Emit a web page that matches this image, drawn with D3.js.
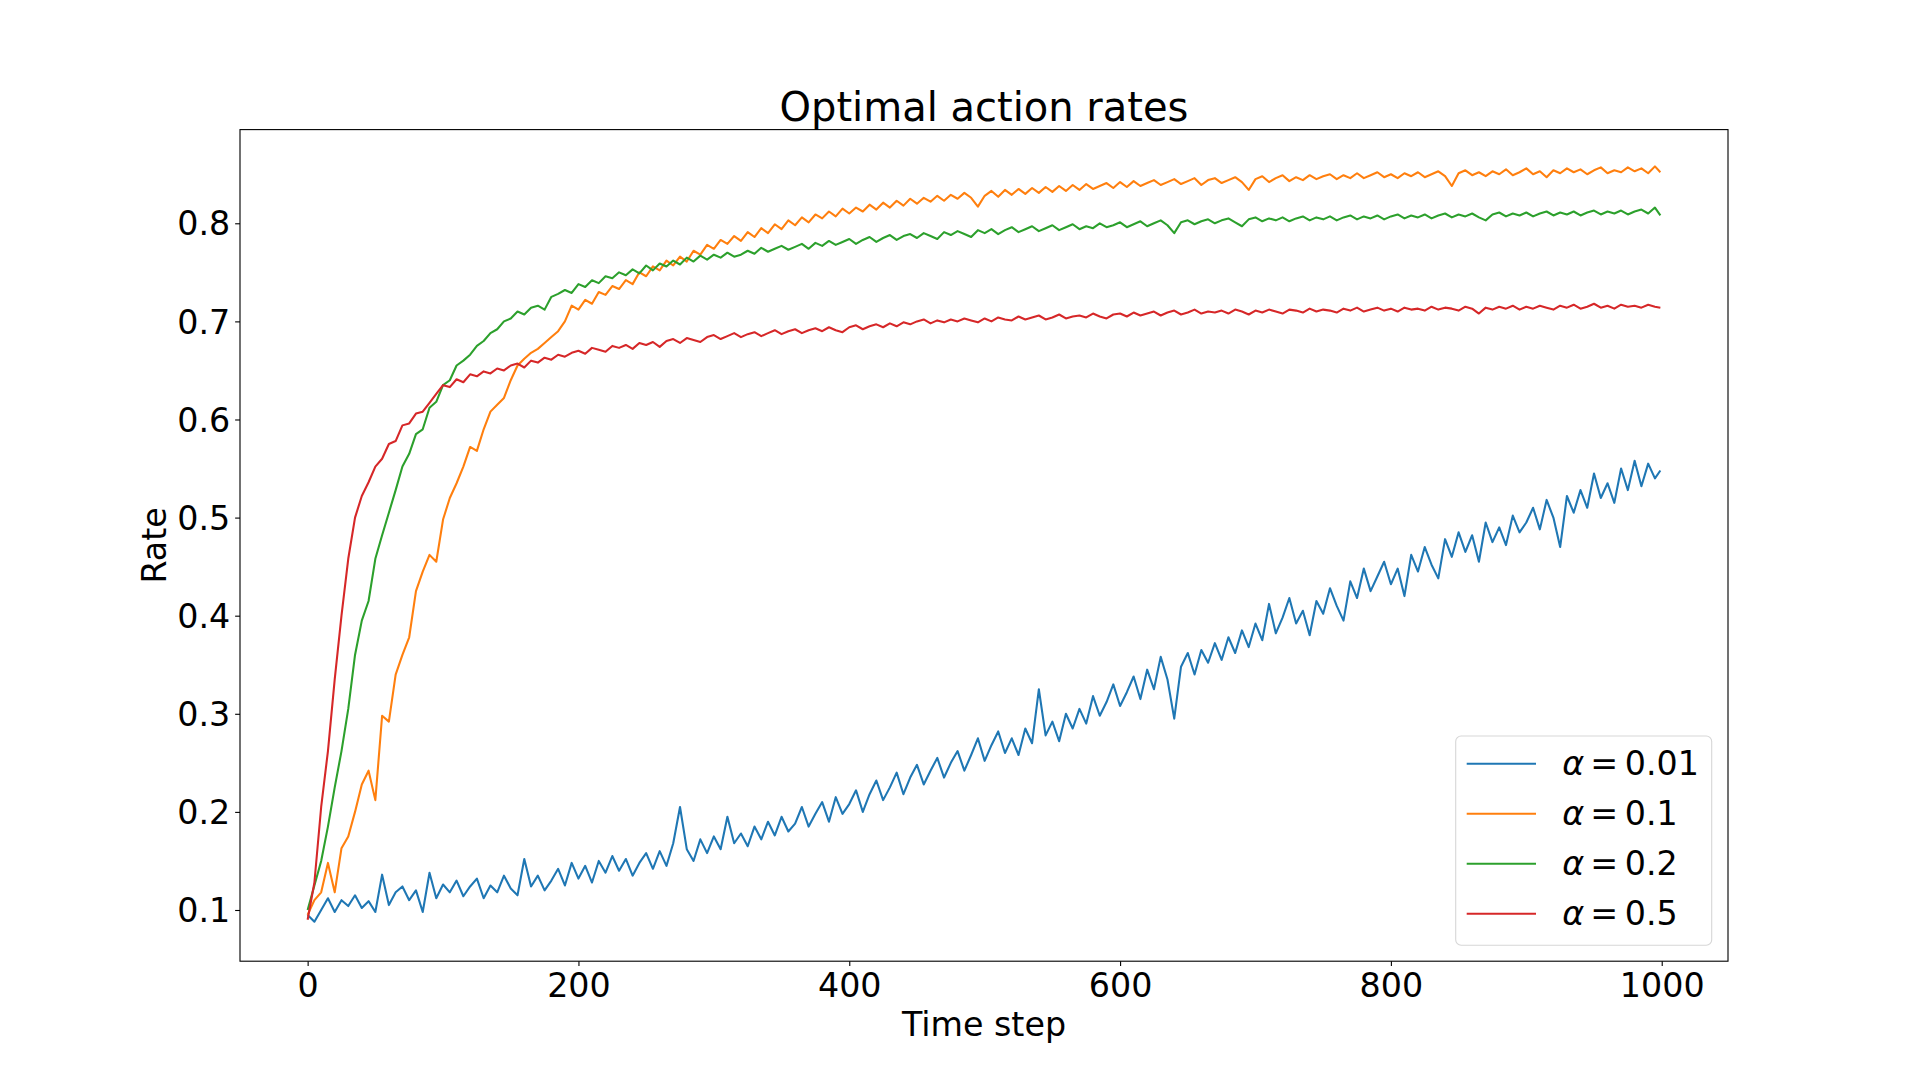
<!DOCTYPE html>
<html>
<head>
<meta charset="utf-8">
<script src="https://cdn.jsdelivr.net/npm/d3@7"></script>
<style>
  body { margin: 0; background: #fff; }
  svg { display: block; font-family: "DejaVu Sans", sans-serif; }
</style>
</head>
<body>
<svg id="chart"></svg>
<script>
// time steps, read every 5 steps off the picture (plus the last one)
var steps = d3.range(0, 1000, 5).concat([999]);

var alpha001 = [
 0.095,0.088,0.100,0.112,0.098,0.110,0.104,0.115,0.102,0.109,0.098,0.136,0.105,0.118,0.124,0.110,0.120,0.098,0.138,0.112,
 0.126,0.118,0.130,0.114,0.124,0.132,0.112,0.125,0.118,0.135,0.122,0.115,0.152,0.124,0.135,0.120,0.130,0.142,0.125,0.148,
 0.132,0.145,0.128,0.150,0.138,0.155,0.140,0.152,0.135,0.148,0.158,0.142,0.160,0.145,0.168,0.205,0.162,0.150,0.172,0.158,
 0.175,0.162,0.195,0.168,0.178,0.165,0.185,0.172,0.190,0.176,0.195,0.180,0.188,0.205,0.185,0.198,0.210,0.190,0.215,0.198,
 0.208,0.222,0.200,0.218,0.232,0.212,0.225,0.240,0.218,0.235,0.248,0.228,0.242,0.255,0.235,0.250,0.262,0.242,0.258,0.275,
 0.252,0.268,0.282,0.260,0.275,0.258,0.285,0.270,0.325,0.278,0.292,0.272,0.300,0.285,0.305,0.290,0.318,0.298,0.312,0.330,
 0.308,0.322,0.338,0.315,0.345,0.325,0.358,0.335,0.295,0.348,0.362,0.340,0.365,0.352,0.372,0.355,0.378,0.362,0.385,0.368,
 0.392,0.375,0.412,0.382,0.398,0.418,0.392,0.405,0.380,0.415,0.402,0.428,0.410,0.395,0.435,0.418,0.448,0.425,0.440,0.455,
 0.432,0.448,0.420,0.462,0.445,0.470,0.452,0.438,0.478,0.460,0.485,0.465,0.482,0.455,0.495,0.475,0.490,0.472,0.502,0.485,
 0.495,0.510,0.488,0.518,0.500,0.470,0.522,0.505,0.528,0.510,0.545,0.520,0.535,0.515,0.550,0.528,0.558,0.532,0.555,0.540,
 0.548];

var alpha01 = [
 0.095,0.110,0.118,0.148,0.118,0.163,0.175,0.200,0.228,0.242,0.212,0.298,0.292,0.340,0.360,0.378,0.425,0.445,0.462,0.455,
 0.498,0.520,0.535,0.552,0.572,0.568,0.590,0.608,0.615,0.622,0.640,0.655,0.662,0.668,0.672,0.678,0.684,0.690,0.700,0.716,
 0.712,0.722,0.718,0.730,0.727,0.736,0.733,0.742,0.738,0.750,0.746,0.756,0.752,0.762,0.757,0.766,0.761,0.772,0.768,0.778,
 0.774,0.783,0.779,0.787,0.782,0.791,0.786,0.795,0.790,0.799,0.794,0.803,0.798,0.806,0.801,0.809,0.805,0.812,0.807,0.815,
 0.810,0.816,0.812,0.819,0.814,0.821,0.816,0.823,0.818,0.825,0.820,0.826,0.822,0.828,0.823,0.829,0.825,0.831,0.826,0.817,
 0.828,0.833,0.827,0.834,0.829,0.835,0.830,0.836,0.831,0.837,0.832,0.838,0.833,0.839,0.834,0.840,0.835,0.838,0.841,0.836,
 0.842,0.837,0.843,0.838,0.841,0.844,0.839,0.842,0.845,0.840,0.843,0.846,0.839,0.844,0.846,0.841,0.844,0.847,0.842,0.834,
 0.845,0.848,0.842,0.846,0.849,0.843,0.847,0.844,0.849,0.845,0.848,0.850,0.845,0.849,0.846,0.851,0.846,0.849,0.852,0.847,
 0.850,0.846,0.851,0.848,0.852,0.847,0.850,0.853,0.848,0.838,0.851,0.854,0.849,0.852,0.848,0.853,0.850,0.855,0.849,0.852,
 0.856,0.850,0.853,0.847,0.854,0.851,0.856,0.852,0.855,0.850,0.854,0.857,0.851,0.854,0.852,0.857,0.853,0.856,0.851,0.858,
 0.852];

var alpha02 = [
 0.100,0.125,0.150,0.185,0.225,0.262,0.305,0.360,0.395,0.415,0.458,0.482,0.505,0.528,0.552,0.565,0.585,0.590,0.612,0.618,
 0.635,0.640,0.655,0.660,0.666,0.675,0.680,0.688,0.692,0.700,0.703,0.710,0.707,0.714,0.716,0.712,0.725,0.728,0.732,0.729,
 0.738,0.735,0.742,0.739,0.746,0.744,0.750,0.747,0.753,0.749,0.757,0.752,0.759,0.756,0.762,0.758,0.765,0.761,0.767,0.763,
 0.768,0.765,0.770,0.766,0.768,0.772,0.769,0.775,0.771,0.774,0.777,0.773,0.776,0.779,0.774,0.780,0.777,0.782,0.778,0.781,
 0.784,0.779,0.783,0.786,0.781,0.785,0.788,0.783,0.787,0.789,0.785,0.790,0.787,0.784,0.791,0.788,0.792,0.789,0.786,0.793,
 0.790,0.794,0.789,0.793,0.796,0.791,0.794,0.797,0.792,0.795,0.798,0.793,0.796,0.799,0.794,0.797,0.795,0.800,0.796,0.798,
 0.801,0.796,0.799,0.802,0.797,0.800,0.803,0.798,0.790,0.801,0.803,0.799,0.802,0.804,0.800,0.803,0.805,0.801,0.797,0.804,
 0.806,0.802,0.805,0.803,0.806,0.802,0.805,0.807,0.803,0.806,0.804,0.807,0.803,0.806,0.808,0.804,0.807,0.805,0.808,0.804,
 0.807,0.809,0.805,0.808,0.806,0.809,0.805,0.808,0.810,0.806,0.809,0.807,0.810,0.806,0.803,0.809,0.811,0.807,0.810,0.808,
 0.811,0.807,0.810,0.812,0.808,0.811,0.809,0.812,0.808,0.811,0.813,0.809,0.812,0.810,0.813,0.809,0.812,0.814,0.810,0.816,
 0.808];

var alpha05 = [
 0.090,0.128,0.205,0.262,0.335,0.400,0.458,0.500,0.522,0.536,0.552,0.560,0.575,0.578,0.594,0.596,0.606,0.608,0.617,0.626,
 0.635,0.633,0.641,0.638,0.646,0.644,0.649,0.647,0.652,0.650,0.655,0.657,0.653,0.660,0.658,0.663,0.661,0.666,0.664,0.668,
 0.670,0.667,0.673,0.671,0.669,0.675,0.673,0.676,0.672,0.678,0.676,0.679,0.674,0.680,0.682,0.678,0.683,0.681,0.679,0.684,
 0.686,0.682,0.685,0.688,0.684,0.687,0.689,0.685,0.688,0.691,0.687,0.690,0.692,0.688,0.691,0.693,0.690,0.694,0.691,0.689,
 0.694,0.696,0.692,0.695,0.697,0.694,0.698,0.695,0.699,0.697,0.700,0.702,0.698,0.701,0.699,0.702,0.700,0.703,0.701,0.699,
 0.703,0.700,0.704,0.702,0.701,0.705,0.702,0.704,0.706,0.702,0.704,0.707,0.703,0.705,0.706,0.704,0.708,0.705,0.703,0.707,
 0.708,0.705,0.709,0.706,0.708,0.710,0.706,0.709,0.711,0.707,0.709,0.712,0.708,0.710,0.709,0.711,0.708,0.712,0.710,0.707,
 0.711,0.709,0.712,0.710,0.708,0.712,0.711,0.709,0.713,0.710,0.712,0.711,0.709,0.713,0.711,0.714,0.710,0.712,0.714,0.711,
 0.713,0.710,0.714,0.712,0.713,0.711,0.715,0.712,0.714,0.713,0.711,0.715,0.713,0.708,0.714,0.712,0.715,0.713,0.716,0.712,
 0.715,0.713,0.716,0.714,0.712,0.716,0.714,0.717,0.713,0.715,0.718,0.714,0.716,0.713,0.717,0.715,0.716,0.714,0.717,0.715,
 0.714];

var seriesLabels = ["0.01", "0.1", "0.2", "0.5"];
var seriesColors = ["#1f77b4", "#ff7f0e", "#2ca02c", "#d62728"];
var xTicks = [0, 200, 400, 600, 800, 1000];
var yTicks = [0.1, 0.2, 0.3, 0.4, 0.5, 0.6, 0.7, 0.8];
var yLimits = [0.0478, 0.8955];

var screen = {width: 1920, height: 1080};
var margins = {left: 240, right: 192, top: 129.6, bottom: 118.8};
var graph = {
    width: screen.width - margins.left - margins.right,
    height: screen.height - margins.top - margins.bottom
};

var svg = d3.select("#chart")
    .attr("width", screen.width)
    .attr("height", screen.height);

// matplotlib style 5% padding on x
var xPad = (999 - 0) * 0.05;
var xScale = d3.scaleLinear()
    .domain([0 - xPad, 999 + xPad])
    .range([0, graph.width]);
var yScale = d3.scaleLinear()
    .domain(yLimits)
    .range([graph.height, 0]);

var g = svg.append("g")
    .attr("transform", "translate(" + margins.left + "," + margins.top + ")");

// lines
var series = [alpha001, alpha01, alpha02, alpha05];
var line = d3.line()
    .x(function(d, i) { return xScale(steps[i]); })
    .y(function(d) { return yScale(d); });

series.forEach(function(vals, k) {
    g.append("path")
        .attr("d", line(vals))
        .attr("fill", "none")
        .attr("stroke", seriesColors[k])
        .attr("stroke-width", 2.08)
        .attr("stroke-linejoin", "round");
});

// axes
var xAxis = d3.axisBottom(xScale).tickValues(xTicks).tickSize(4.86).tickPadding(4.86).tickFormat(d3.format("d"));
var yAxis = d3.axisLeft(yScale).tickValues(yTicks).tickSize(4.86).tickPadding(4.86).tickFormat(d3.format(".1f"));

var gx = g.append("g")
    .attr("transform", "translate(0," + graph.height + ")")
    .call(xAxis);
var gy = g.append("g").call(yAxis);

[gx, gy].forEach(function(a) {
    a.select(".domain").remove();
    a.selectAll(".tick line").attr("stroke", "#000").attr("stroke-width", 1.11);
    a.selectAll(".tick text")
        .attr("fill", "#000")
        .style("font-size", "33.3px")
        .style("font-family", "DejaVu Sans");
});
gx.selectAll(".tick text").attr("dy", null).attr("y", 36.2);
gy.selectAll(".tick text").attr("dy", "0.35em");

// frame
g.append("rect")
    .attr("width", graph.width)
    .attr("height", graph.height)
    .attr("fill", "none")
    .attr("stroke", "#000")
    .attr("stroke-width", 1.11);

// title and labels
svg.append("text")
    .attr("x", margins.left + graph.width / 2)
    .attr("y", 121)
    .attr("text-anchor", "middle")
    .style("font-size", "40px")
    .text("Optimal action rates");

svg.append("text")
    .attr("x", margins.left + graph.width / 2)
    .attr("y", 1035.5)
    .attr("text-anchor", "middle")
    .style("font-size", "33.3px")
    .text("Time step");

svg.append("text")
    .attr("transform", "translate(166," + (margins.top + graph.height / 2) + ") rotate(-90)")
    .attr("text-anchor", "middle")
    .style("font-size", "33.3px")
    .text("Rate");

// legend
var legend = svg.append("g").attr("transform", "translate(1455.7,736)");
legend.append("rect")
    .attr("width", 256)
    .attr("height", 209.3)
    .attr("rx", 5.5)
    .attr("fill", "#fff")
    .attr("fill-opacity", 0.8)
    .attr("stroke", "#cccccc")
    .attr("stroke-opacity", 0.8)
    .attr("stroke-width", 1.11);

seriesLabels.forEach(function(lab, k) {
    var row = legend.append("g").attr("transform", "translate(0," + (27.7 + k * 50) + ")");
    row.append("line")
        .attr("x1", 11).attr("x2", 80.3)
        .attr("stroke", seriesColors[k])
        .attr("stroke-width", 2.08);
    row.append("text")
        .attr("x", 106.5).attr("y", 11.5)
        .style("font-size", "33.3px")
        .style("font-style", "italic")
        .text("\u03b1");
    row.append("text")
        .attr("x", 134.5).attr("y", 11.5)
        .style("font-size", "33.3px")
        .text("=");
    row.append("text")
        .attr("x", 169).attr("y", 11.5)
        .style("font-size", "33.3px")
        .text(lab);
});
</script>
</body>
</html>
